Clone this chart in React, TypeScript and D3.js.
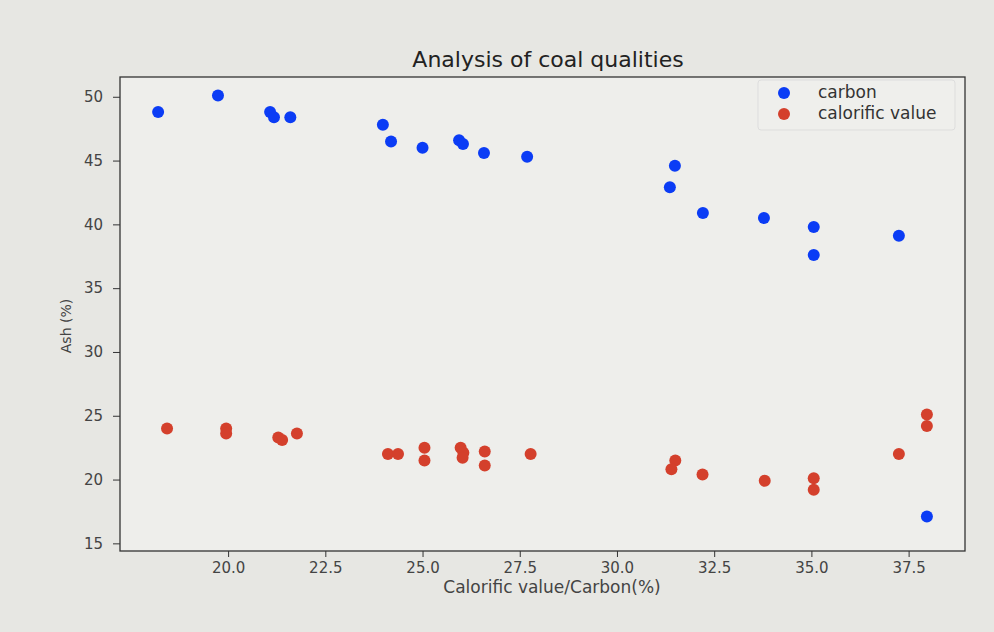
import React, { useRef, useEffect } from 'react';
import * as d3 from 'd3';

// carbon series (x = carbon %, y = ash %)
const carbonX = [18.2, 19.74, 21.08, 21.18, 21.6, 23.98, 24.19, 25.0, 25.94, 26.04, 26.58, 27.69, 31.36, 31.49, 32.21, 33.78, 35.06, 35.06, 37.25, 37.97];
const carbonY = [48.8, 50.1, 48.8, 48.4, 48.4, 47.8, 46.5, 46.0, 46.6, 46.3, 45.6, 45.3, 42.9, 44.6, 40.9, 40.5, 39.8, 37.6, 39.1, 17.1];

// calorific value series
const calX = [18.43, 19.95, 19.95, 21.29, 21.39, 21.77, 24.11, 24.37, 25.05, 25.05, 25.98, 26.05, 26.03, 26.6, 26.6, 27.78, 31.5, 31.4, 32.2, 33.8, 35.06, 35.06, 37.25, 37.97, 37.97];
const calY = [24.0, 24.0, 23.6, 23.3, 23.1, 23.6, 22.0, 22.0, 22.5, 21.5, 22.5, 22.1, 21.7, 22.2, 21.1, 22.0, 21.5, 20.8, 20.4, 19.9, 20.1, 19.2, 22.0, 25.1, 24.2];

const xTicks = [20.0, 22.5, 25.0, 27.5, 30.0, 32.5, 35.0, 37.5];
const yTicks = [15, 20, 25, 30, 35, 40, 45, 50];

const seriesNames = ['carbon', 'calorific value'];
const seriesColors = ['#0b3cf5', '#d4402c'];

const App = () => {
  const svgRef = useRef<SVGSVGElement>(null);
  const width = 994, height = 632;
  const margin = { left: 120, right: 29, top: 77, bottom: 81 };

  useEffect(() => {
    const svg = d3.select(svgRef.current);
    svg.selectAll('*').remove();

    svg.append('rect').attr('width', width).attr('height', height).attr('fill', '#e7e7e3');

    const x = d3.scaleLinear().domain([17.22, 38.95]).range([margin.left, width - margin.right]);
    const y = d3.scaleLinear().domain([14.4, 51.55]).range([height - margin.bottom, margin.top]);

    const g = svg.append('g');
    g.append('rect')
      .attr('x', margin.left).attr('y', margin.top)
      .attr('width', width - margin.left - margin.right)
      .attr('height', height - margin.top - margin.bottom)
      .attr('fill', '#eeeeeb')
      .attr('stroke', '#333')
      .attr('stroke-width', 1.3);

    const font = 'DejaVu Sans, sans-serif';

    const xAxis = g.append('g')
      .attr('transform', `translate(0,${height - margin.bottom})`)
      .call(d3.axisBottom(x).tickValues(xTicks).tickFormat(d3.format('.1f')).tickSize(6).tickPadding(5));
    const yAxis = g.append('g')
      .attr('transform', `translate(${margin.left},0)`)
      .call(d3.axisLeft(y).tickValues(yTicks).tickFormat(d3.format('d')).tickSize(7).tickPadding(10));
    [xAxis, yAxis].forEach(a => {
      a.select('.domain').remove();
      a.selectAll('line').attr('stroke', '#333');
      a.selectAll('text').attr('fill', '#444').attr('font-family', font).attr('font-size', '15px');
    });

    // points
    g.append('g').selectAll('circle')
      .data(carbonX.map((d, i) => [d, carbonY[i]]))
      .join('circle')
      .attr('cx', d => x(d[0])).attr('cy', d => y(d[1]))
      .attr('r', 6).attr('fill', seriesColors[0]);

    g.append('g').selectAll('circle')
      .data(calX.map((d, i) => [d, calY[i]]))
      .join('circle')
      .attr('cx', d => x(d[0])).attr('cy', d => y(d[1]))
      .attr('r', 6).attr('fill', seriesColors[1]);

    // title + labels
    svg.append('text')
      .attr('x', 548).attr('y', 67)
      .attr('text-anchor', 'middle').attr('font-family', font).attr('font-size', '22px').attr('fill', '#222')
      .text('Analysis of coal qualities');
    svg.append('text')
      .attr('x', 552).attr('y', 593)
      .attr('text-anchor', 'middle').attr('font-family', font).attr('font-size', '17px').attr('fill', '#444')
      .text('Calorific value/Carbon(%)');
    svg.append('text')
      .attr('transform', `translate(71,${326}) rotate(-90)`)
      .attr('text-anchor', 'middle').attr('font-family', font).attr('font-size', '14px').attr('fill', '#444')
      .text('Ash (%)');

    // legend
    const lg = svg.append('g').attr('transform', 'translate(758,80)');
    lg.append('rect').attr('width', 197).attr('height', 50).attr('rx', 3)
      .attr('fill', '#efefec').attr('stroke', '#ddd');
    seriesNames.forEach((name, i) => {
      lg.append('circle').attr('cx', 26).attr('cy', 13 + i * 21).attr('r', 6).attr('fill', seriesColors[i]);
      lg.append('text').attr('x', 60).attr('y', 18 + i * 21)
        .attr('font-family', font).attr('font-size', '17px').attr('fill', '#333').text(name);
    });
  }, []);

  return (
    <div style={{ position: 'absolute', left: 0, top: 0 }}>
      <svg ref={svgRef} width={width} height={height} style={{ display: 'block' }}></svg>
    </div>
  );
};

export default App;
